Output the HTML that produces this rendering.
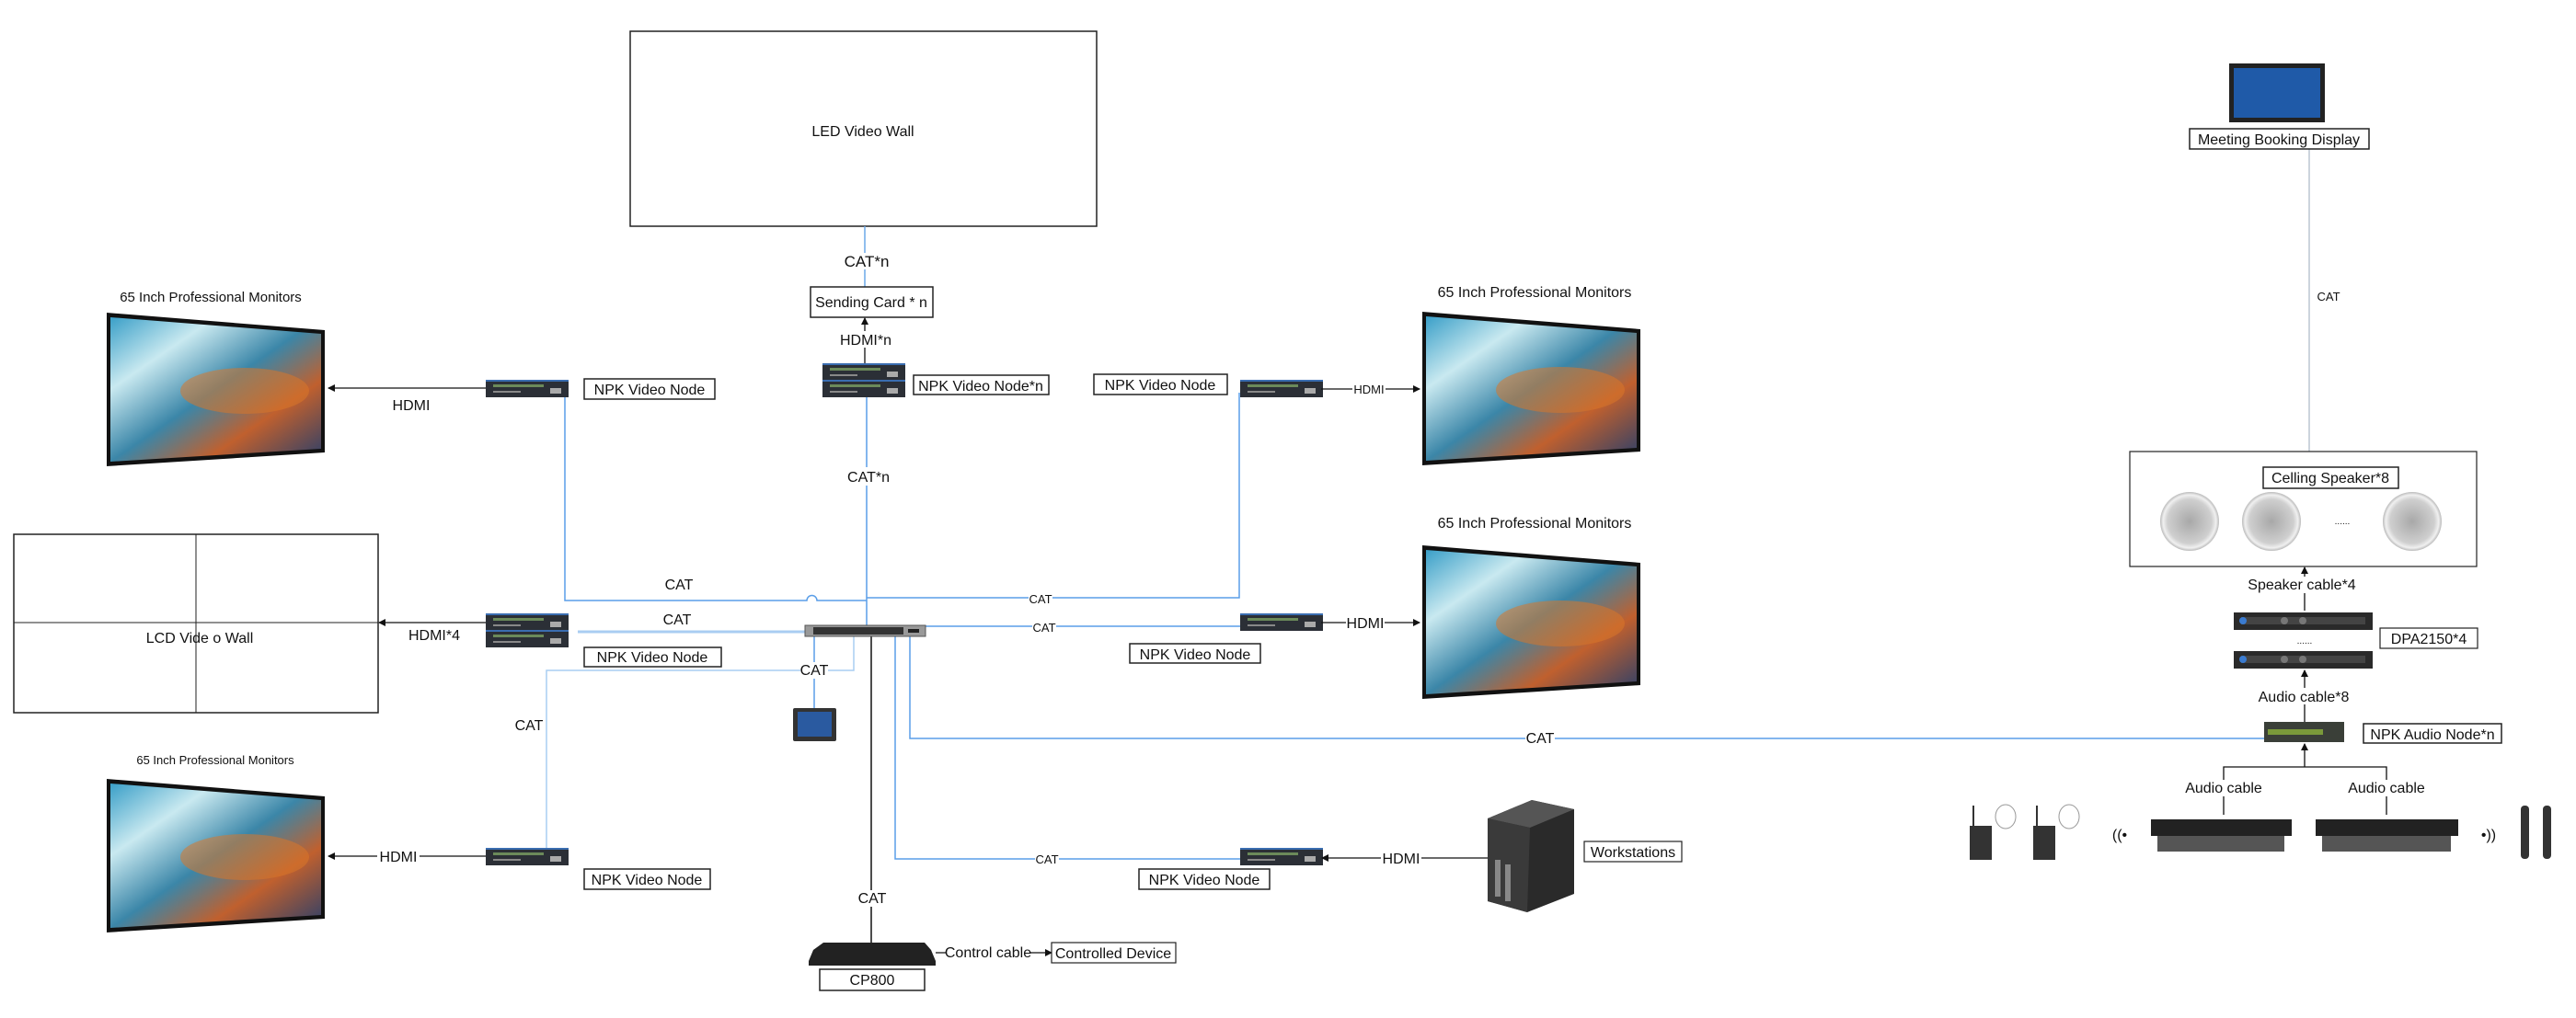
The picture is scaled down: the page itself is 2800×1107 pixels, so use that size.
<!DOCTYPE html>
<html><head><meta charset="utf-8"><style>
html,body{margin:0;padding:0;background:#fff}
svg{display:block}
text{font-family:"Liberation Sans",sans-serif;fill:#111}
</style></head><body>
<svg width="2800" height="1107" viewBox="0 0 2800 1107" xmlns="http://www.w3.org/2000/svg">
<defs>
<linearGradient id="scr" x1="0" y1="0" x2="1" y2="1">
<stop offset="0" stop-color="#3a9fc8"/><stop offset="0.25" stop-color="#c9e9f0"/><stop offset="0.5" stop-color="#3b86a8"/><stop offset="0.72" stop-color="#c0602e"/><stop offset="1" stop-color="#2a3f6a"/>
</linearGradient>
<radialGradient id="spk"><stop offset="0" stop-color="#a8a8a8"/><stop offset="0.75" stop-color="#cfcfcf"/><stop offset="0.9" stop-color="#f0f0f0"/><stop offset="1" stop-color="#bbb"/></radialGradient>
<g id="mon">
<polygon points="0,0 237,19 237,152 0,167" fill="#111"/>
<polygon points="4,5 233,23 233,148 4,162" fill="url(#scr)"/>
<ellipse cx="150" cy="85" rx="70" ry="25" fill="#d8762a" opacity="0.55"/>
</g>
<g id="dev">
<rect x="0" y="0" width="90" height="19" fill="#2b2f36"/>
<rect x="0" y="0" width="90" height="2" fill="#3a6db0"/>
<rect x="8" y="5" width="55" height="3" fill="#6b8a5a"/>
<rect x="8" y="12" width="30" height="2" fill="#888"/>
<rect x="70" y="9" width="12" height="6" fill="#aaa"/>
</g>
<g id="rack">
<rect x="0" y="0" width="151" height="19" fill="#2a2a2a"/>
<rect x="8" y="5" width="135" height="8" fill="#444"/>
<circle cx="10" cy="9" r="4" fill="#3a7bd0"/>
<circle cx="55" cy="9" r="4" fill="#777"/><circle cx="75" cy="9" r="4" fill="#777"/>
</g>
<marker id="ar" markerWidth="8" markerHeight="8" refX="7" refY="4" orient="auto" markerUnits="userSpaceOnUse"><path d="M0,0 L8,4 L0,8z" fill="#111"/></marker>
</defs>

<rect x="685" y="34" width="507" height="212" fill="none" stroke="#222" stroke-width="1.5"/>
<text x="938" y="148" font-size="16" text-anchor="middle">LED Video Wall</text>
<line x1="940" y1="246" x2="940" y2="312" stroke="#6aa8e8" stroke-width="1.5"/>
<rect x="925" y="275" width="30" height="18" fill="#fff"/>
<text x="942" y="290" font-size="17" text-anchor="middle">CAT*n</text>
<rect x="881" y="312" width="133" height="33" fill="#fff" stroke="#222" stroke-width="1.5"/>
<text x="947" y="334" font-size="16" text-anchor="middle">Sending Card * n</text>
<line x1="940" y1="395" x2="940" y2="346" stroke="#111" stroke-width="1.3" marker-end="url(#ar)"/>
<rect x="910" y="360" width="60" height="18" fill="#fff"/>
<text x="941" y="375" font-size="16" text-anchor="middle">HDMI*n</text>
<use href="#dev" x="894" y="395"/><use href="#dev" x="894" y="413"/>
<rect x="993" y="408" width="147" height="21" fill="#fff" stroke="#222" stroke-width="1.5"/>
<text x="1066" y="425" font-size="16" text-anchor="middle">NPK Video Node*n</text>

<g fill="none" stroke="#5a9ee8" stroke-width="1.5">
<line x1="942" y1="432" x2="942" y2="680"/>
<path d="M614,431 L614,653 L877,653 A5.5,5.5 0 0 1 888,653 L942,653"/>
<path d="M942,650 L1347,650 L1347,427"/>
<line x1="628" y1="687" x2="875" y2="687" stroke="#a9cdf2" stroke-width="3"/>
<line x1="1006" y1="681" x2="1348" y2="681"/>
<line x1="885" y1="692" x2="885" y2="770"/>
<path d="M928,692 L928,729 L594,729 L594,925" stroke="#a9cdf2"/>
<path d="M973,692 L973,934 L1348,934"/>
<path d="M989,692 L989,803 L2461,803"/>
<line x1="2510" y1="162" x2="2510" y2="491" stroke="#9ab" stroke-width="1"/>
</g>
<line x1="947" y1="692" x2="947" y2="1025" stroke="#111" stroke-width="1.5"/>
<rect x="932" y="508" width="26" height="20" fill="#fff"/>
<text x="944" y="524" font-size="16" text-anchor="middle">CAT*n</text>
<text x="738" y="641" font-size="16" text-anchor="middle">CAT</text>
<rect x="1118" y="643" width="26" height="14" fill="#fff"/><text x="1131" y="656" font-size="13" text-anchor="middle">CAT</text>
<text x="736" y="679" font-size="16" text-anchor="middle">CAT</text>
<rect x="1122" y="675" width="26" height="14" fill="#fff"/><text x="1135" y="687" font-size="13" text-anchor="middle">CAT</text>
<rect x="870" y="720" width="30" height="18" fill="#fff"/><text x="885" y="734" font-size="16" text-anchor="middle">CAT</text>
<text x="575" y="794" font-size="16" text-anchor="middle">CAT</text>
<rect x="1125" y="927" width="26" height="14" fill="#fff"/><text x="1138" y="939" font-size="13" text-anchor="middle">CAT</text>
<rect x="935" y="968" width="28" height="18" fill="#fff"/><text x="948" y="982" font-size="16" text-anchor="middle">CAT</text>
<rect x="1658" y="795" width="32" height="16" fill="#fff"/><text x="1674" y="808" font-size="16" text-anchor="middle">CAT</text>
<text x="2531" y="327" font-size="13" text-anchor="middle">CAT</text>

<rect x="875" y="680" width="131" height="12" fill="#999" stroke="#555"/>
<rect x="884" y="682" width="98" height="8" fill="#333"/>
<rect x="987" y="684" width="12" height="4" fill="#222"/>

<text x="229" y="328" font-size="15" text-anchor="middle">65 Inch Professional Monitors</text>
<use href="#mon" x="116" y="340"/>
<line x1="528" y1="422" x2="357" y2="422" stroke="#111" stroke-width="1.3" marker-end="url(#ar)"/>
<text x="447" y="446" font-size="16" text-anchor="middle">HDMI</text>
<use href="#dev" x="528" y="413"/>
<rect x="635" y="412" width="142" height="22" fill="#fff" stroke="#222" stroke-width="1.5"/>
<text x="706" y="429" font-size="16" text-anchor="middle">NPK Video Node</text>

<rect x="15" y="581" width="396" height="194" fill="none" stroke="#222" stroke-width="1.5"/>
<line x1="213" y1="581" x2="213" y2="775" stroke="#222"/>
<line x1="15" y1="677" x2="411" y2="677" stroke="#222"/>
<text x="217" y="699" font-size="16" text-anchor="middle">LCD Vide o Wall</text>
<line x1="528" y1="677" x2="412" y2="677" stroke="#111" stroke-width="1.3" marker-end="url(#ar)"/>
<text x="472" y="696" font-size="16" text-anchor="middle">HDMI*4</text>
<use href="#dev" x="528" y="667"/><use href="#dev" x="528" y="685"/>
<rect x="635" y="704" width="149" height="21" fill="#fff" stroke="#222" stroke-width="1.5"/>
<text x="709" y="720" font-size="16" text-anchor="middle">NPK Video Node</text>

<rect x="862" y="770" width="47" height="36" fill="#333" rx="2"/>
<rect x="867" y="774" width="37" height="27" fill="#2a5aa0"/>

<text x="234" y="831" font-size="13" text-anchor="middle">65 Inch Professional Monitors</text>
<use href="#mon" x="116" y="847"/>
<line x1="528" y1="931" x2="357" y2="931" stroke="#111" stroke-width="1.3" marker-end="url(#ar)"/>
<rect x="410" y="923" width="46" height="16" fill="#fff"/>
<text x="433" y="937" font-size="16" text-anchor="middle">HDMI</text>
<use href="#dev" x="528" y="922"/>
<rect x="635" y="945" width="137" height="22" fill="#fff" stroke="#222" stroke-width="1.5"/>
<text x="703" y="962" font-size="16" text-anchor="middle">NPK Video Node</text>

<polygon points="879,1045 884,1033 895,1025 1005,1025 1012,1033 1017,1045 1017,1050 879,1050" fill="#222"/>
<rect x="891" y="1054" width="114" height="23" fill="#fff" stroke="#222" stroke-width="1.5"/>
<text x="948" y="1071" font-size="16" text-anchor="middle">CP800</text>
<line x1="1017" y1="1036" x2="1143" y2="1036" stroke="#111" stroke-width="1.3" marker-end="url(#ar)"/>
<rect x="1028" y="1026" width="92" height="18" fill="#fff"/>
<text x="1074" y="1041" font-size="16" text-anchor="middle">Control cable</text>
<rect x="1143" y="1025" width="135" height="22" fill="#fff" stroke="#222" stroke-width="1.2"/>
<text x="1210" y="1042" font-size="16" text-anchor="middle">Controlled Device</text>

<rect x="1189" y="407" width="145" height="22" fill="#fff" stroke="#222" stroke-width="1.5"/>
<text x="1261" y="424" font-size="16" text-anchor="middle">NPK Video  Node</text>
<use href="#dev" x="1348" y="413"/>
<line x1="1436" y1="423" x2="1543" y2="423" stroke="#111" stroke-width="1.3" marker-end="url(#ar)"/>
<rect x="1470" y="416" width="36" height="14" fill="#fff"/><text x="1488" y="428" font-size="13" text-anchor="middle">HDMI</text>
<text x="1668" y="323" font-size="16" text-anchor="middle">65 Inch Professional Monitors</text>
<use href="#mon" x="1546" y="339"/>

<use href="#dev" x="1348" y="667"/>
<line x1="1436" y1="677" x2="1543" y2="677" stroke="#111" stroke-width="1.3" marker-end="url(#ar)"/>
<rect x="1463" y="669" width="42" height="16" fill="#fff"/><text x="1484" y="683" font-size="16" text-anchor="middle">HDMI</text>
<rect x="1228" y="700" width="142" height="21" fill="#fff" stroke="#222" stroke-width="1.5"/>
<text x="1299" y="717" font-size="16" text-anchor="middle">NPK Video Node</text>
<text x="1668" y="574" font-size="16" text-anchor="middle">65 Inch Professional Monitors</text>
<use href="#mon" x="1546" y="593"/>

<use href="#dev" x="1348" y="922"/>
<line x1="1617" y1="933" x2="1437" y2="933" stroke="#111" stroke-width="1.3" marker-end="url(#ar)"/>
<rect x="1501" y="925" width="44" height="16" fill="#fff"/><text x="1523" y="939" font-size="16" text-anchor="middle">HDMI</text>
<rect x="1238" y="945" width="142" height="22" fill="#fff" stroke="#222" stroke-width="1.5"/>
<text x="1309" y="962" font-size="16" text-anchor="middle">NPK Video Node</text>

<polygon points="1617,890 1665,870 1711,880 1711,972 1660,992 1617,980" fill="#2a2a2a"/>
<polygon points="1617,890 1665,870 1711,880 1663,900" fill="#555"/>
<polygon points="1617,890 1663,900 1660,992 1617,980" fill="#3a3a3a"/>
<rect x="1625" y="935" width="6" height="40" fill="#888"/><rect x="1636" y="940" width="6" height="40" fill="#888"/>
<rect x="1722" y="915" width="106" height="22" fill="#fff" stroke="#222" stroke-width="1.2"/>
<text x="1775" y="932" font-size="16" text-anchor="middle">Workstations</text>

<rect x="2423" y="69" width="104" height="64" fill="#222"/>
<rect x="2428" y="74" width="94" height="54" fill="#1f5aa8"/>
<rect x="2380" y="140" width="195" height="22" fill="#fff" stroke="#222" stroke-width="1.5"/>
<text x="2477" y="157" font-size="16" text-anchor="middle">Meeting Booking Display</text>

<rect x="2315" y="491" width="377" height="125" fill="#fff" stroke="#222" stroke-width="1.2"/>
<rect x="2460" y="508" width="147" height="23" fill="#fff" stroke="#222" stroke-width="1.5"/>
<text x="2533" y="525" font-size="16" text-anchor="middle">Celling Speaker*8</text>
<circle cx="2380" cy="567" r="32" fill="url(#spk)"/>
<circle cx="2469" cy="567" r="32" fill="url(#spk)"/>
<circle cx="2622" cy="567" r="32" fill="url(#spk)"/>
<text x="2546" y="570" font-size="10" text-anchor="middle">......</text>

<line x1="2505" y1="664" x2="2505" y2="617" stroke="#111" stroke-width="1.3" marker-end="url(#ar)"/>
<rect x="2440" y="627" width="130" height="18" fill="#fff"/>
<text x="2502" y="641" font-size="16" text-anchor="middle">Speaker  cable*4</text>
<use href="#rack" x="2428" y="666"/>
<text x="2505" y="700" font-size="10" text-anchor="middle">......</text>
<use href="#rack" x="2428" y="708"/>
<rect x="2587" y="683" width="106" height="22" fill="#fff" stroke="#222" stroke-width="1.2"/>
<text x="2640" y="700" font-size="16" text-anchor="middle">DPA2150*4</text>
<line x1="2505" y1="785" x2="2505" y2="729" stroke="#111" stroke-width="1.3" marker-end="url(#ar)"/>
<rect x="2450" y="748" width="110" height="18" fill="#fff"/>
<text x="2504" y="763" font-size="16" text-anchor="middle">Audio cable*8</text>
<rect x="2461" y="785" width="87" height="22" fill="#3a3f38"/>
<rect x="2465" y="793" width="60" height="6" fill="#7a9a3a"/>
<rect x="2569" y="787" width="150" height="21" fill="#fff" stroke="#222" stroke-width="1.5"/>
<text x="2644" y="804" font-size="16" text-anchor="middle">NPK Audio Node*n</text>

<line x1="2505" y1="834" x2="2505" y2="809" stroke="#111" stroke-width="1.3" marker-end="url(#ar)"/>
<path d="M2417,848 L2417,834 L2594,834 L2594,848" fill="none" stroke="#111" stroke-width="1.3"/>
<line x1="2417" y1="866" x2="2417" y2="886" stroke="#111" stroke-width="1.3"/>
<line x1="2594" y1="866" x2="2594" y2="886" stroke="#111" stroke-width="1.3"/>
<text x="2417" y="862" font-size="16" text-anchor="middle">Audio cable</text>
<text x="2594" y="862" font-size="16" text-anchor="middle">Audio cable</text>

<rect x="2338" y="891" width="153" height="18" fill="#222"/>
<rect x="2345" y="909" width="138" height="17" fill="#555"/>
<rect x="2517" y="891" width="155" height="18" fill="#222"/>
<rect x="2524" y="909" width="140" height="17" fill="#555"/>
<rect x="2141" y="898" width="24" height="37" fill="#333"/><line x1="2145" y1="876" x2="2145" y2="898" stroke="#333" stroke-width="2"/>
<rect x="2210" y="898" width="24" height="37" fill="#333"/><line x1="2214" y1="876" x2="2214" y2="898" stroke="#333" stroke-width="2"/>
<ellipse cx="2180" cy="888" rx="11" ry="13" fill="none" stroke="#999"/>
<ellipse cx="2249" cy="888" rx="11" ry="13" fill="none" stroke="#999"/>
<text x="2304" y="913" font-size="16" text-anchor="middle" fill="#555">((•</text>
<text x="2705" y="913" font-size="16" text-anchor="middle" fill="#555">•))</text>
<rect x="2740" y="876" width="9" height="58" rx="4" fill="#333"/>
<rect x="2764" y="876" width="9" height="58" rx="4" fill="#333"/>
</svg>
</body></html>
